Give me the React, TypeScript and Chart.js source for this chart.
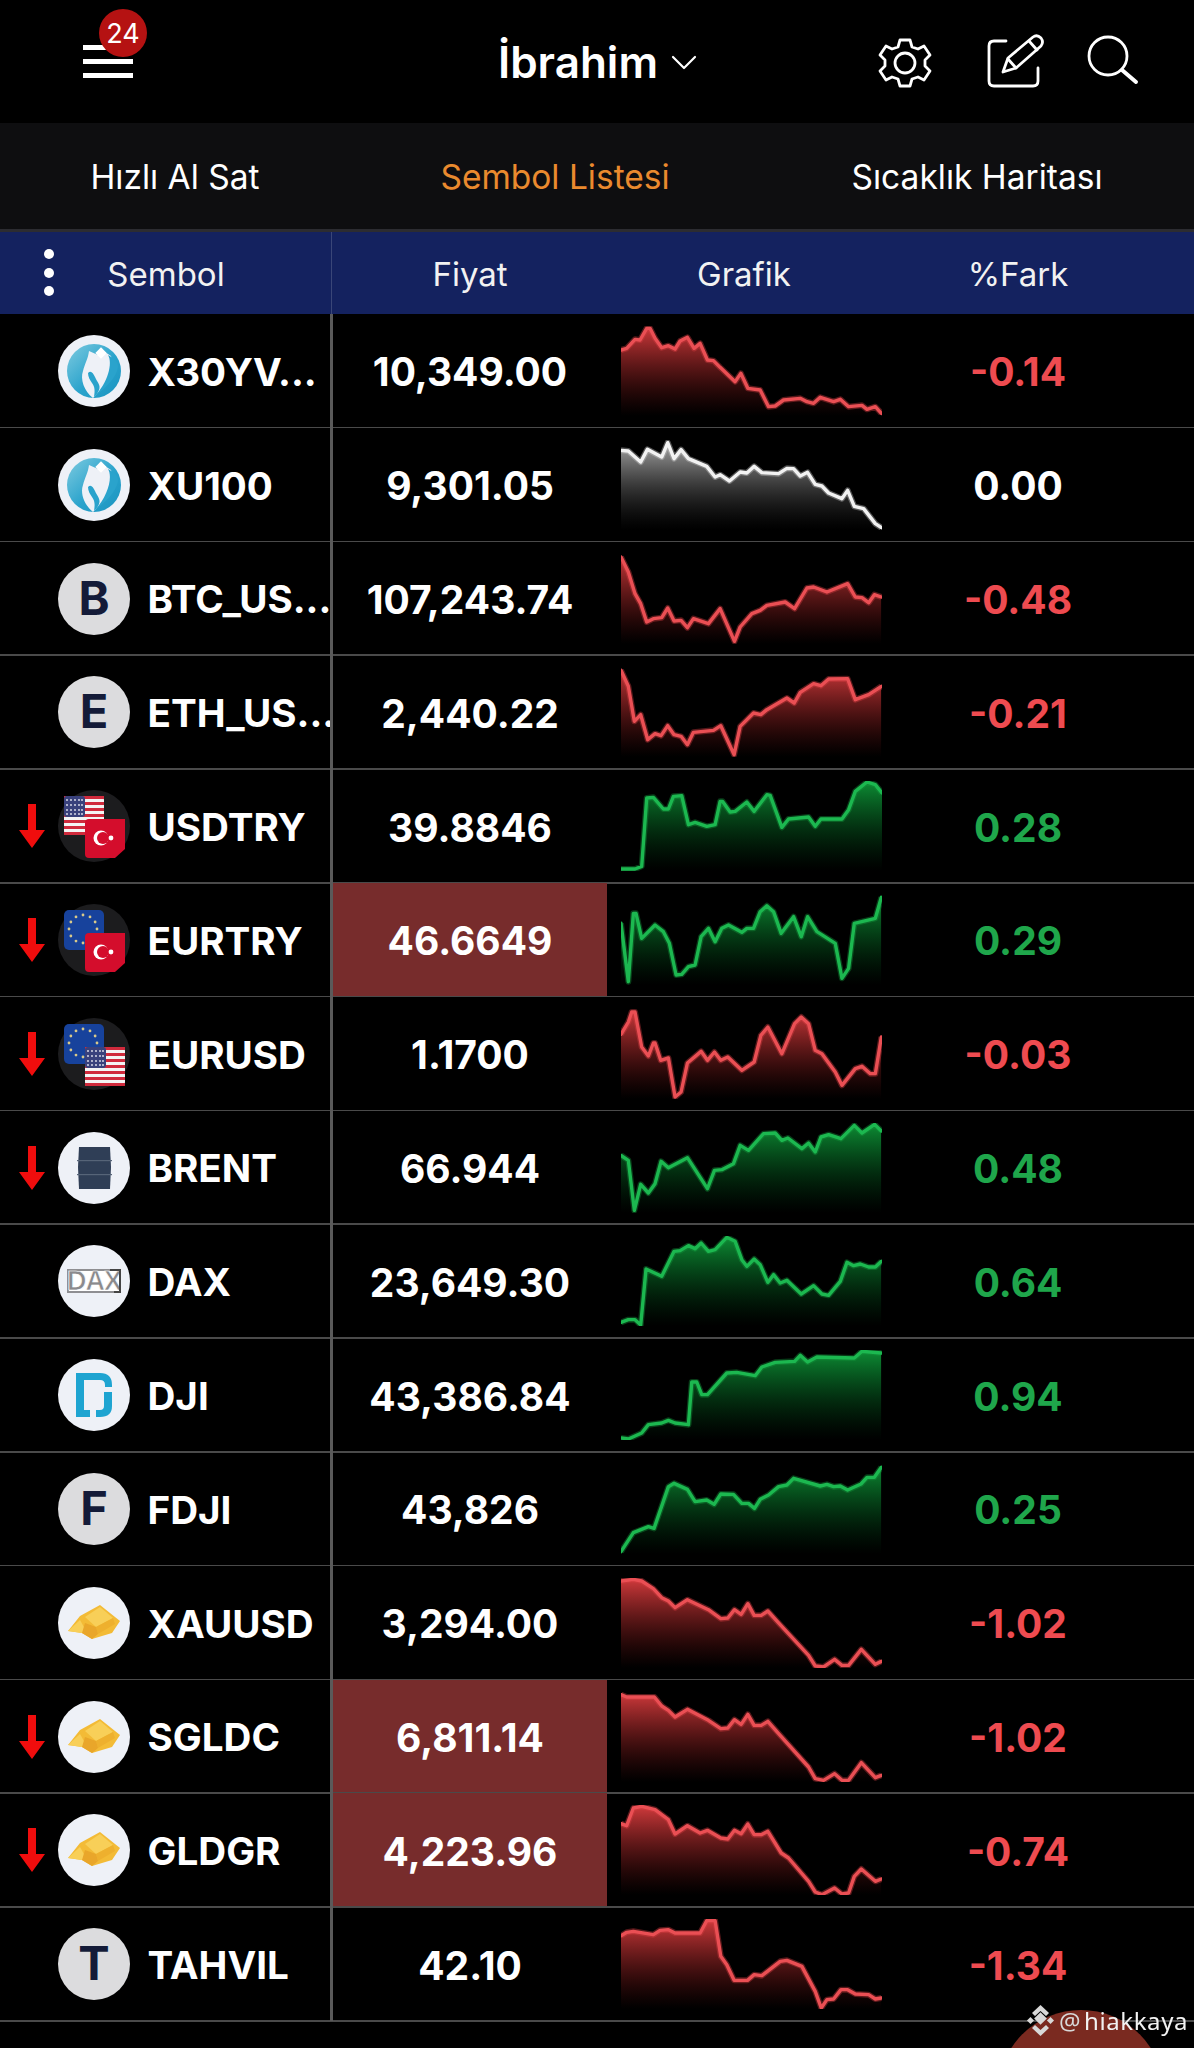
import React, { useEffect, useRef } from "react";
import { Chart, registerables } from "chart.js";

Chart.register(...registerables);

type Pt = [number, number];

const symbols = ["X30YV...", "XU100", "BTC_US...", "ETH_US...", "USDTRY", "EURTRY", "EURUSD", "BRENT", "DAX", "DJI", "FDJI", "XAUUSD", "SGLDC", "GLDGR", "TAHVIL"];
const prices = ["10,349.00", "9,301.05", "107,243.74", "2,440.22", "39.8846", "46.6649", "1.1700", "66.944", "23,649.30", "43,386.84", "43,826", "3,294.00", "6,811.14", "4,223.96", "42.10"];
const changes = ["-0.14", "0.00", "-0.48", "-0.21", "0.28", "0.29", "-0.03", "0.48", "0.64", "0.94", "0.25", "-1.02", "-1.02", "-0.74", "-1.34"];
const icons = ["turk", "turk", "B", "E", "ustr", "eutr", "euus", "barrel", "dax", "dji", "F", "gold", "gold", "gold", "T"];
const arrows = [0, 0, 0, 0, 1, 1, 1, 1, 0, 0, 0, 0, 1, 1, 0];
const highlighted = [0, 0, 0, 0, 0, 1, 0, 0, 0, 0, 0, 0, 1, 1, 0];
const tabs = ["Hızlı Al Sat", "Sembol Listesi", "Sıcaklık Haritası"];
const columns = ["Sembol", "Fiyat", "Grafik", "%Fark"];

const x30yv: Pt[] = [[0,198],[17,203],[42,230],[57,228],[77,263],[87,263],[102,233],[122,205],[142,211],[162,201],[177,225],[199,236],[219,203],[237,218],[259,168],[277,166],[297,146],[342,103],[359,128],[380,83],[417,78],[442,28],[462,30],[487,48],[537,53],[557,43],[577,38],[597,56],[637,43],[657,50],[682,28],[722,32],[737,20],[762,28],[780,8]];
const xu100: Pt[] = [[0,239],[22,237],[59,204],[79,242],[122,219],[140,262],[159,214],[180,241],[202,214],[257,191],[282,159],[297,166],[325,147],[357,174],[377,171],[399,191],[422,172],[472,169],[497,185],[517,184],[537,162],[559,173],[582,137],[602,132],[622,111],[662,94],[679,119],[699,71],[727,64],[762,19],[780,7]];
const btcUs: Pt[] = [[0,261],[22,216],[42,151],[59,121],[77,66],[97,76],[122,79],[140,108],[159,69],[180,71],[199,49],[217,76],[262,61],[297,106],[340,8],[357,51],[392,91],[417,101],[437,116],[492,126],[520,106],[557,168],[577,171],[617,156],[679,181],[702,141],[722,139],[742,124],[759,148],[780,141]];
const ethUs: Pt[] = [[0,260],[22,212],[40,107],[59,127],[80,52],[102,70],[120,64],[140,94],[159,67],[180,62],[199,37],[217,74],[277,80],[299,94],[339,7],[357,92],[397,132],[419,127],[437,142],[497,177],[519,162],[537,194],[577,220],[599,214],[622,234],[679,235],[702,172],[742,187],[780,212]];
const usdtry: Pt[] = [[0,6],[42,6],[62,14],[77,219],[97,221],[127,186],[142,186],[157,224],[182,226],[202,139],[222,146],[257,134],[282,139],[297,209],[304,209],[327,177],[342,179],[377,207],[399,179],[437,229],[447,227],[482,131],[502,156],[562,162],[582,134],[599,156],[662,156],[682,184],[702,239],[737,267],[762,259],[782,234]];
const eurtry: Pt[] = [[0,185],[22,10],[37,215],[45,215],[62,140],[102,180],[127,160],[145,125],[165,30],[182,32],[202,55],[222,60],[240,145],[262,170],[282,130],[302,170],[322,180],[362,158],[377,170],[397,170],[417,220],[437,238],[457,220],[480,155],[517,205],[540,145],[559,205],[587,160],[642,125],[662,20],[682,50],[699,185],[762,200],[780,263]];
const eurusd: Pt[] = [[0,194],[22,231],[32,261],[42,261],[62,156],[82,129],[97,168],[102,168],[119,116],[142,123],[162,6],[180,21],[199,108],[240,143],[259,116],[280,141],[299,116],[320,126],[362,86],[399,111],[419,191],[440,216],[482,136],[520,226],[540,246],[562,226],[582,146],[602,136],[642,81],[662,41],[702,91],[722,98],[747,76],[762,76],[780,186]];
const brent: Pt[] = [[0,173],[22,158],[40,8],[59,86],[82,60],[102,88],[120,155],[142,136],[199,166],[259,73],[280,128],[302,130],[337,148],[357,203],[382,188],[427,238],[462,240],[482,218],[500,225],[542,193],[562,210],[582,183],[599,228],[622,235],[659,223],[699,263],[722,240],[760,266],[780,246]];
const dax: Pt[] = [[0,11],[22,19],[42,19],[59,3],[75,171],[122,149],[159,224],[177,226],[202,241],[222,232],[240,249],[262,224],[282,229],[317,266],[342,254],[362,199],[377,179],[399,201],[417,184],[440,131],[457,154],[477,129],[497,137],[540,96],[577,121],[602,96],[622,92],[657,134],[677,191],[697,181],[717,186],[742,177],[762,177],[780,194]];
const dji: Pt[] = [[0,6],[22,3],[62,21],[82,46],[122,51],[142,59],[162,51],[202,46],[212,174],[227,174],[242,136],[259,136],[317,201],[347,203],[402,193],[422,219],[462,233],[520,236],[537,254],[559,234],[587,249],[699,246],[722,266],[780,261]];
const fdji: Pt[] = [[0,7],[37,64],[82,82],[99,77],[142,202],[159,212],[199,194],[222,157],[257,162],[279,149],[299,180],[337,179],[362,152],[382,152],[400,137],[417,164],[442,177],[472,202],[497,207],[517,227],[597,204],[617,209],[637,202],[657,204],[679,192],[719,210],[737,230],[759,230],[780,260]];
const xauusd: Pt[] = [[0,261],[37,266],[62,261],[97,238],[122,211],[142,201],[162,181],[199,205],[262,175],[299,148],[320,150],[340,175],[360,161],[380,193],[399,158],[420,158],[440,171],[477,130],[562,38],[582,6],[607,3],[640,26],[662,8],[682,8],[720,56],[762,11],[780,20]];
const sgldc: Pt[] = [[0,262],[17,255],[100,255],[122,228],[142,215],[162,195],[199,218],[262,185],[299,160],[320,162],[340,187],[360,173],[380,203],[399,170],[420,170],[440,182],[477,140],[562,45],[582,10],[607,5],[640,25],[662,5],[682,5],[720,58],[762,13],[780,20]];
const gldgr: Pt[] = [[0,214],[17,208],[37,261],[62,266],[102,256],[142,226],[162,183],[199,208],[237,186],[259,194],[299,171],[320,168],[340,194],[360,184],[380,213],[399,181],[420,181],[440,191],[480,126],[502,111],[562,41],[582,9],[602,1],[640,21],[662,3],[682,6],[699,56],[720,78],[762,41],[780,48]];
const tahvil: Pt[] = [[0,220],[17,230],[37,233],[97,223],[117,236],[142,238],[162,228],[237,228],[257,265],[282,265],[299,158],[317,133],[339,86],[379,86],[399,103],[422,100],[477,143],[497,146],[542,128],[582,53],[600,3],[617,28],[637,30],[659,58],[679,58],[702,45],[742,43],[762,30],[780,33]];
const seriesList = [x30yv, xu100, btcUs, ethUs, usdtry, eurtry, eurusd, brent, dax, dji, fdji, xauusd, sgldc, gldgr, tahvil];

const ROW0 = 314;
const PITCH = 113.8;
const FONT = "Inter, 'Liberation Sans', sans-serif";

const RED = "#ee4b50";
const GREEN = "#1fa64b";

function palette(change: string) {
  const n = parseFloat(change);
  if (n < 0) return { line: "#ea4f54", glow: "rgba(214,60,64,0.4)", top: "rgba(222,62,64,0.95)", bottom: "rgba(120,20,20,0)", text: RED };
  if (n > 0) return { line: "#1cb850", glow: "rgba(20,150,60,0.4)", top: "rgba(14,150,56,0.95)", bottom: "rgba(0,70,20,0)", text: GREEN };
  return { line: "#f2f2f2", glow: "rgba(200,200,200,0.4)", top: "rgba(185,185,185,0.95)", bottom: "rgba(60,60,60,0)", text: "#ffffff" };
}

function Sparkline({ data, change }: { data: Pt[]; change: string }) {
  const ref = useRef<HTMLCanvasElement>(null);
  useEffect(() => {
    const c = palette(change);
    const points = data.map(([x, y]) => ({ x, y }));
    const chart = new Chart(ref.current!, {
      type: "line",
      data: {
        datasets: [
          {
            data: points,
            borderColor: c.line,
            borderWidth: 3.4,
            borderJoinStyle: "round",
            borderCapStyle: "round",
            tension: 0,
            pointRadius: 0,
            fill: false,
          },
          {
            data: points,
            borderColor: c.glow,
            borderWidth: 6,
            borderJoinStyle: "round",
            tension: 0,
            pointRadius: 0,
            fill: "start",
            backgroundColor: (ctx: any) => {
              const area = ctx.chart.chartArea;
              if (!area) return c.top;
              const g = ctx.chart.ctx.createLinearGradient(0, area.top, 0, area.bottom);
              g.addColorStop(0, c.top);
              g.addColorStop(1, c.bottom);
              return g;
            },
          },
        ],
      },
      options: {
        responsive: false,
        animation: false,
        devicePixelRatio: 1,
        layout: { padding: 4 },
        plugins: { legend: { display: false }, tooltip: { enabled: false } },
        scales: {
          x: { type: "linear", display: false, min: 0, max: 782 },
          y: { display: false, min: 0, max: 270 },
        },
      },
    });
    return () => chart.destroy();
  }, [data, change]);
  return <canvas ref={ref} width={269} height={98} style={{ display: "block", width: 269, height: 98 }} />;
}

function TR({ x, y }: { x: number; y: number }) {
  return (
    <g transform={`translate(${x} ${y})`}>
      <path d="M4 0H40V30L30 39H4A4 4 0 0 1 0 35V4A4 4 0 0 1 4 0Z" fill="#d40d2c" />
      <circle cx="16" cy="19" r="7.5" fill="#fff" />
      <circle cx="18" cy="19" r="6" fill="#d40d2c" />
      <circle cx="26" cy="19" r="2.4" fill="#fff" />
    </g>
  );
}
function US({ x, y }: { x: number; y: number }) {
  const w = 40, h = 39;
  const stripes = [0, 1, 2, 3, 4, 5, 6];
  return (
    <g transform={`translate(${x} ${y})`}>
      <rect width={w} height={h} rx="4" fill="#f4f4f4" />
      {stripes.map((i) => <rect key={i} y={i * 6} width={w} height="3" fill="#d02a3c" />)}
      <rect width="21" height="21" rx="3" fill="#39417c" />
      {[3, 7, 11, 15, 18].map((a) => [4, 9, 14, 18].map((b) => <circle key={a + "-" + b} cx={a} cy={b} r="0.9" fill="#e7e7f0" />))}
    </g>
  );
}
function EU({ x, y }: { x: number; y: number }) {
  const angles = [0, 30, 60, 90, 120, 150, 180, 210, 240, 270, 300, 330];
  return (
    <g transform={`translate(${x} ${y})`}>
      <rect width="40" height="40" rx="5" fill="#17429c" />
      {angles.map((a) => (
        <circle key={a} cx={19 + 14 * Math.cos((a * Math.PI) / 180)} cy={19 + 14 * Math.sin((a * Math.PI) / 180)} r="1.4" fill="#d9c98a" />
      ))}
    </g>
  );
}

function Icon({ kind }: { kind: string }) {
  const circle = (fill: string) => <circle cx="36" cy="36" r="36" fill={fill} />;
  let inner: React.ReactNode = null;
  if (kind === "turk") {
    inner = (
      <>
        <defs>
          <linearGradient id="turkBlue" x1="0" y1="0" x2="1" y2="1">
            <stop offset="0" stopColor="#7fcbe0" />
            <stop offset="0.55" stopColor="#2aa3cc" />
            <stop offset="1" stopColor="#1a94c0" />
          </linearGradient>
        </defs>
        {circle("#eef1f7")}
        <circle cx="36" cy="36" r="27" fill="url(#turkBlue)" />
        <path d="M31 16L40 20L47 17L53 21C57 32 50 50 35 63C26 56 22 44 25 36C27 28 30 24 31 16Z" fill="#eef1f7" />
        <path d="M30 38C33 35 35 38 37 42C39 47 43 50 41 55C40 58 38 60 36 62C37 56 37 52 34 48C32 45 30 42 30 38Z" fill="#2aa3cc" />
        <path d="M50 20C55 28 50 48 36 62C46 54 58 44 60 32C60 27 56 23 50 20Z" fill="#2aa3cc" />
        <rect x="39" y="14" width="8" height="8" transform="rotate(45 43 18)" fill="#ffffff" />
      </>
    );
  } else if (kind === "ustr" || kind === "eutr" || kind === "euus") {
    inner = (
      <>
        {circle("#1c1c1e")}
        {kind === "ustr" ? <US x={6} y={6} /> : <EU x={6} y={6} />}
        {kind === "euus" ? <US x={27} y={29} /> : <TR x={27} y={29} />}
      </>
    );
  } else if (kind === "barrel") {
    inner = (
      <>
        {circle("#eef1f7")}
        <path d="M21 15H52L53 35L52 57H21L20 35Z" fill="#2f3e56" />
        <rect x="19" y="28" width="35" height="1.2" fill="#566478" />
        <rect x="19" y="42" width="35" height="1.2" fill="#566478" />
      </>
    );
  } else if (kind === "dax") {
    inner = (
      <>
        {circle("#eef1f7")}
        <rect x="10" y="25" width="52" height="22" fill="#ffffff" stroke="#8f8f92" strokeWidth="2" />
        <text x="36" y="45" textAnchor="middle" fontFamily="'Liberation Sans', sans-serif" fontWeight="700" fontSize="27" letterSpacing="-1" fill="#8a8a8d" stroke="#fff" strokeWidth="0.7">DAX</text>
        <path d="M52 25H62V47H56" fill="none" stroke="#444" strokeWidth="2" />
      </>
    );
  } else if (kind === "dji") {
    inner = (
      <>
        {circle("#eef1f7")}
        <path d="M18 14H42Q54 14 54 26V28H47V26Q47 21 42 21H26V51H32V58H18Z" fill="#1ea4d1" />
        <path d="M46 33H54V47Q54 58 42 58H38V51H42Q46 51 46 47Z" fill="#1ea4d1" />
      </>
    );
  } else if (kind === "gold") {
    inner = (
      <>
        {circle("#eef1f7")}
        <path d="M10 44L22 29L42 18L62 34L54 46L34 52L24 46Z" fill="#f3bb36" />
        <path d="M27 30L42 20L55 31L38 40Z" fill="#f8cf58" />
        <path d="M38 40L55 31L57 37L40 47Z" fill="#eeb02e" />
        <path d="M10 44L22 33L27 42L24 46Z" fill="#f8cf58" />
        <path d="M24 46L27 36L38 40L40 47L34 52Z" fill="#e9a62a" />
      </>
    );
  } else {
    inner = (
      <>
        {circle("#dcdcde")}
        <text x="36" y="52" textAnchor="middle" fontFamily={FONT} fontWeight="700" fontSize="47" fill="#141b38">{kind}</text>
      </>
    );
  }
  return <svg width="72" height="72" viewBox="0 0 72 72" style={{ position: "absolute", left: 58, top: 21 }}>{inner}</svg>;
}

function abs(left: number, top: number, extra: React.CSSProperties = {}): React.CSSProperties {
  return { position: "absolute", left, top, ...extra };
}

function Centered({ cx, cy, size, weight, color, children }: any) {
  return (
    <div style={{ position: "absolute", left: cx - 200, top: cy - 40, width: 400, height: 80, display: "flex", alignItems: "center", justifyContent: "center", fontFamily: FONT, fontSize: size, fontWeight: weight, color, whiteSpace: "nowrap" }}>
      {children}
    </div>
  );
}

export default function App() {
  const tabCx = [175, 555, 977];
  const tabColors = ["#ffffff", "#ea8a2e", "#ffffff"];
  const colCx = [166, 470, 744, 1018];
  return (
    <div style={{ position: "absolute", left: 0, top: 0, width: 1194, height: 2048, background: "#000", overflow: "hidden" }}>
      {/* top bar */}
      <div style={abs(83, 45, { width: 50, height: 4.5, background: "#fff" })} />
      <div style={abs(83, 59, { width: 50, height: 4.5, background: "#fff" })} />
      <div style={abs(83, 73, { width: 50, height: 4.5, background: "#fff" })} />
      <div style={abs(99, 9, { width: 48, height: 48, borderRadius: 24, background: "#b51212", color: "#fff", display: "flex", alignItems: "center", justifyContent: "center", fontFamily: FONT, fontSize: 27 })}>24</div>
      <Centered cx={578} cy={62} size={44} weight={600} color="#fff">İbrahim</Centered>
      <svg width="1194" height="123" style={abs(0, 0)} fill="none" stroke="#fff" strokeLinecap="round" strokeLinejoin="round">
        <path d="M673 57L684 68L695 57" strokeWidth="2.2" />
        <g strokeWidth="2.8">
          <circle cx="905" cy="63" r="10" />
          <path d="M900 40H910L912 47L918 49L924 46L930 55L925 60V66L930 71L924 80L918 77L912 79L910 86H900L898 79L892 77L886 80L880 71L885 66V60L880 55L886 46L892 49L898 47Z" />
          <path d="M1006 41H994Q989 41 989 46V81Q989 86 994 86H1033Q1038 86 1038 81V68" />
          <path d="M1003 72L1008 58L1033 37Q1037 34 1041 38Q1044 42 1041 46L1016 68Z" />
          <path d="M1008 59L1016 68M1029 41L1037 50" />
          <circle cx="1108" cy="56" r="19" />
          <path d="M1122 70L1136 82" strokeWidth="4" />
        </g>
      </svg>

      {/* tabs */}
      <div style={abs(0, 123, { width: 1194, height: 108, background: "#0e0e10" })} />
      <div style={abs(0, 229, { width: 1194, height: 3, background: "#2c2c31" })} />
      {tabs.map((t, i) => (
        <Centered key={t} cx={tabCx[i]} cy={177} size={33.5} weight={400} color={tabColors[i]}>{t}</Centered>
      ))}

      {/* header */}
      <div style={abs(0, 232, { width: 1194, height: 82, background: "#14225f" })} />
      <div style={abs(331, 232, { width: 1, height: 82, background: "#3a4678" })} />
      {[254, 273, 291].map((y) => (
        <div key={y} style={abs(44, y - 5, { width: 10, height: 10, borderRadius: 5, background: "#fff" })} />
      ))}
      {columns.map((c, i) => (
        <Centered key={c} cx={colCx[i]} cy={274} size={33} weight={400} color="#f2f2f2">{c}</Centered>
      ))}

      {/* rows */}
      {symbols.map((s, i) => {
        const top = ROW0 + i * PITCH;
        const c = palette(changes[i]);
        return (
          <div key={s} style={abs(0, top, { width: 1194, height: PITCH })}>
            {highlighted[i] ? <div style={abs(332, 0, { width: 275, height: PITCH, background: "#772c2c" })} /> : null}
            <div style={abs(0, PITCH - 1, { width: 1194, height: 1.6, background: "#4a4a4a" })} />
            {arrows[i] ? (
              <svg width="30" height="46" style={abs(17, 34)}>
                <path d="M11 1H19V27H28L15 45L2 27H11Z" fill="#f00d0d" />
              </svg>
            ) : null}
            <Icon kind={icons[i]} />
            <div style={abs(147.5, 1, { height: PITCH, display: "flex", alignItems: "center", fontFamily: FONT, fontSize: 38.6, fontWeight: 700, color: "#fff", whiteSpace: "nowrap" })}>{s}</div>
            <Centered cx={470} cy={PITCH / 2 + 1} size={39} weight={700} color="#fff">{prices[i]}</Centered>
            <Centered cx={1018} cy={PITCH / 2 + 1} size={39} weight={700} color={c.text}>{changes[i]}</Centered>
            <div style={abs(617, 8)}>
              <Sparkline data={seriesList[i]} change={changes[i]} />
            </div>
          </div>
        );
      })}
      <div style={abs(330, 314, { width: 2.5, height: 1707, background: "#5a5a5a" })} />

      {/* watermark */}
      <svg width="1194" height="2048" style={abs(0, 0, { pointerEvents: "none" })}>
        <clipPath id="wm"><rect x="0" y="1900" width="1194" height="148" /></clipPath>
        <circle cx="1081" cy="2093" r="83" fill="#7a2a20" clipPath="url(#wm)" />
        <g fill="#d8d8d8">
          <rect x="1036" y="2014" width="9" height="9" transform="rotate(45 1040.5 2018.5)" />
          <rect x="1028" y="2018" width="5" height="5" transform="rotate(45 1030.5 2020.5)" />
          <rect x="1048" y="2018" width="5" height="5" transform="rotate(45 1050.5 2020.5)" />
          <path d="M1040.5 2005L1049 2013L1046 2016L1040.5 2011L1035 2016L1032 2013Z" />
          <path d="M1040.5 2036L1049 2028L1046 2025L1040.5 2030L1035 2025L1032 2028Z" />
        </g>
        <text x="1059" y="2030" fontFamily="'Noto Sans', sans-serif" fontSize="24" fill="#d8d8d8">@</text>
        <text x="1084" y="2030" fontFamily="'Noto Sans', sans-serif" fontSize="24" fill="#f2f2f2" letterSpacing="0.6">hiakkaya</text>
      </svg>
    </div>
  );
}
